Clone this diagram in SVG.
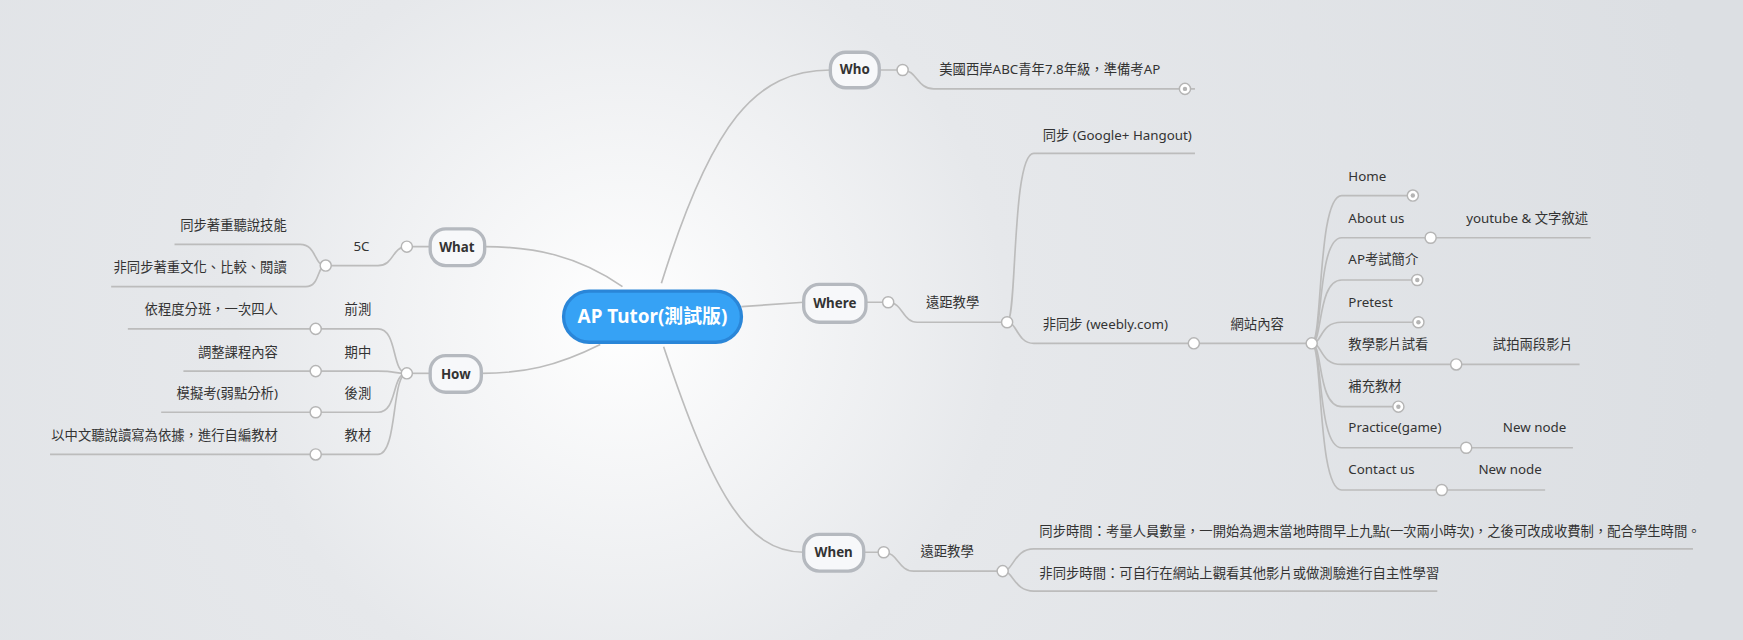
<svg xmlns="http://www.w3.org/2000/svg" width="1743" height="640" viewBox="0 0 1743 640">
<defs>
<radialGradient id="bg" cx="620" cy="320" r="1100" gradientUnits="userSpaceOnUse">
<stop offset="0" stop-color="#ffffff"/><stop offset="0.35" stop-color="#e6e8eb"/><stop offset="1" stop-color="#dcdfe3"/>
</radialGradient>
<style>
.c{fill:none;stroke:#bcbcbc;stroke-width:1.5}
.k{fill:#fff;stroke:#b5b5b5;stroke-width:1.3}
.d{fill:#b5b5b5}
.t{font-family:"Noto Sans","Noto Sans CJK TC",sans-serif;font-size:12px;fill:#333}
.b rect{fill:#f7f8fa;stroke:#b5b9bf;stroke-width:3}
.b text{font-family:"Noto Sans",sans-serif;font-size:12px;font-weight:bold;fill:#333;text-anchor:middle}
</style>
</defs>
<rect width="1743" height="640" fill="url(#bg)"/>
<g transform="scale(1.1116,1.1111)">
<g id="connectors">
<path class="c" d="M595 255 C640 110 680 63 747 63"/>
<path class="c" d="M667 276 L723 272"/>
<path class="c" d="M597 312 C640 440 670 497 723 497"/>
<path class="c" d="M560 258 C520 230 480 222 436 222"/>
<path class="c" d="M540 310 C500 330 470 336 433 336"/>
<!-- who -->
<path class="c" d="M791 63 L812 63 M812 63 C825 63 825 80 840 80 L1075 80"/>
<!-- where -->
<path class="c" d="M779 272 L799 272 M799 272 C812 272 812 290 825 290 L906 290"/>
<path class="c" d="M906 290 C915 290 910 138 930 138 L1075 138"/>
<path class="c" d="M906 290 C915 290 915 309 930 309 L1180 309"/>
<path class="c" d="M1180 309 C1190 309 1185 176 1207 176 L1271 176"/>
<path class="c" d="M1180 309 C1190 309 1185 214 1207 214 L1431 214"/>
<path class="c" d="M1180 309 C1190 309 1185 252 1207 252 L1275 252"/>
<path class="c" d="M1180 309 C1190 309 1187 290 1207 290 L1276 290"/>
<path class="c" d="M1180 309 C1190 309 1187 328 1207 328 L1421 328"/>
<path class="c" d="M1180 309 C1190 309 1185 366 1207 366 L1258 366"/>
<path class="c" d="M1180 309 C1190 309 1185 403 1207 403 L1415 403"/>
<path class="c" d="M1180 309 C1190 309 1185 441 1207 441 L1390 441"/>
<!-- when -->
<path class="c" d="M777 497 L795 497 M795 497 C808 497 808 514 822 514 L902 514"/>
<path class="c" d="M902 514 C912 514 912 494 930 494 L1523 494"/>
<path class="c" d="M902 514 C912 514 912 532 930 532 L1293 532"/>
<!-- what -->
<path class="c" d="M387 222 L366 222 M366 222 C352 222 355 239 340 239 L293 239"/>
<path class="c" d="M293 239 C282 239 285 220 270 220 L157 220"/>
<path class="c" d="M293 239 C285 239 288 258 275 258 L100 258"/>
<!-- how -->
<path class="c" d="M387 336 L366 336"/>
<path class="c" d="M366 336 C352 336 358 296 340 296 L115 296"/>
<path class="c" d="M366 336 C352 336 358 334 340 334 L165 334"/>
<path class="c" d="M366 336 C352 336 358 371 340 371 L145 371"/>
<path class="c" d="M366 336 C352 336 358 409 340 409 L45 409"/>
</g>
<g id="dots">
<circle class="k" cx="812" cy="63" r="5"/><circle class="k" cx="1066" cy="80" r="5"/><circle class="d" cx="1066" cy="80" r="2"/>
<circle class="k" cx="799" cy="272" r="5"/><circle class="k" cx="906" cy="290" r="5"/><circle class="k" cx="1074" cy="309" r="5"/><circle class="k" cx="1180" cy="309" r="5"/>
<circle class="k" cx="1271" cy="176" r="5"/><circle class="d" cx="1271" cy="176" r="2"/>
<circle class="k" cx="1287" cy="214" r="5"/>
<circle class="k" cx="1275" cy="252" r="5"/><circle class="d" cx="1275" cy="252" r="2"/>
<circle class="k" cx="1276" cy="290" r="5"/><circle class="d" cx="1276" cy="290" r="2"/>
<circle class="k" cx="1310" cy="328" r="5"/>
<circle class="k" cx="1258" cy="366" r="5"/><circle class="d" cx="1258" cy="366" r="2"/>
<circle class="k" cx="1319" cy="403" r="5"/><circle class="k" cx="1297" cy="441" r="5"/>
<circle class="k" cx="795" cy="497" r="5"/><circle class="k" cx="902" cy="514" r="5"/>
<circle class="k" cx="366" cy="222" r="5"/><circle class="k" cx="293" cy="239" r="5"/>
<circle class="k" cx="366" cy="336" r="5"/>
<circle class="k" cx="284" cy="296" r="5"/><circle class="k" cx="284" cy="334" r="5"/><circle class="k" cx="284" cy="371" r="5"/><circle class="k" cx="284" cy="409" r="5"/>
</g>
<g id="center"><rect x="507" y="262" width="160" height="46" rx="23" fill="#36a2f5" stroke="#2a86d8" stroke-width="3"/>
<text x="587" y="291" text-anchor="middle" font-family="Noto Sans,Noto Sans CJK TC,sans-serif" font-size="17" font-weight="bold" fill="#fff">AP Tutor(測試版)</text></g>
<g id="who" class="b"><rect x="747" y="47" width="44" height="32" rx="14"/><text x="769" y="67">Who</text></g>
<g id="where" class="b"><rect x="723" y="256" width="56" height="34" rx="14"/><text x="751" y="277">Where</text></g>
<g id="when" class="b"><rect x="723" y="481" width="54" height="33" rx="14"/><text x="750" y="501">When</text></g>
<g id="what" class="b"><rect x="387" y="206" width="49" height="33" rx="14"/><text x="411" y="227">What</text></g>
<g id="how" class="b"><rect x="387" y="320" width="46" height="33" rx="14"/><text x="410" y="341">How</text></g>
<g id="labels" class="t">
<text x="845" y="67">美國西岸ABC青年7.8年級，準備考AP</text>
<text x="833" y="276">遠距教學</text>
<text x="938" y="126">同步 (Google+ Hangout)</text>
<text x="938" y="296">非同步 (weebly.com)</text>
<text x="1107" y="296">網站內容</text>
<text x="1213" y="163">Home</text>
<text x="1213" y="201">About us</text>
<text x="1319" y="201">youtube &amp; 文字敘述</text>
<text x="1213" y="238">AP考試簡介</text>
<text x="1213" y="276">Pretest</text>
<text x="1213" y="314">教學影片試看</text>
<text x="1343" y="314">試拍兩段影片</text>
<text x="1213" y="352">補充教材</text>
<text x="1213" y="389">Practice(game)</text>
<text x="1352" y="389">New node</text>
<text x="1213" y="427">Contact us</text>
<text x="1330" y="427">New node</text>
<text x="828" y="500">遠距教學</text>
<text x="935" y="482">同步時間：考量人員數量，一開始為週末當地時間早上九點(一次兩小時次)，之後可改成收費制，配合學生時間。</text>
<text x="935" y="520">非同步時間：可自行在網站上觀看其他影片或做測驗進行自主性學習</text>
<text x="318" y="226">5C</text>
<text x="258" y="207" text-anchor="end">同步著重聽說技能</text>
<text x="258" y="245" text-anchor="end">非同步著重文化、比較、閱讀</text>
<text x="310" y="283">前測</text>
<text x="310" y="321">期中</text>
<text x="310" y="358">後測</text>
<text x="310" y="396">教材</text>
<text x="250" y="283" text-anchor="end">依程度分班，一次四人</text>
<text x="250" y="321" text-anchor="end">調整課程內容</text>
<text x="250" y="358" text-anchor="end">模擬考(弱點分析)</text>
<text x="250" y="396" text-anchor="end">以中文聽說讀寫為依據，進行自編教材</text>
</g>
</g>
</svg>
